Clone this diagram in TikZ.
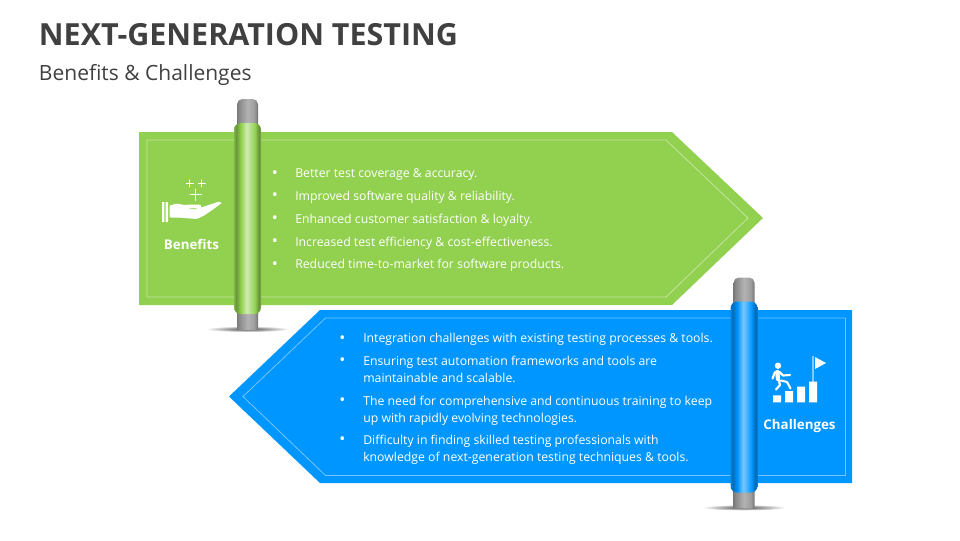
\documentclass[tikz,border=0pt]{standalone}
\usepackage{fontspec}
\setmainfont{Open Sans}
\usetikzlibrary{calc}
\definecolor{benefit}{RGB}{146,208,80}
\definecolor{challenge}{RGB}{0,150,255}
\definecolor{heading}{RGB}{64,64,64}
\pgfdeclarehorizontalshading{greypole}{100bp}{
  color(0bp)=(black!52); color(25bp)=(black!52); color(30bp)=(black!46); color(50bp)=(black!30);
  color(66bp)=(black!38); color(75bp)=(black!55); color(100bp)=(black!55)}
\pgfdeclarehorizontalshading{greenpole}{100bp}{
  color(0bp)=(benefit!88!black); color(25bp)=(benefit!88!black); color(29bp)=(benefit!72!black); color(38bp)=(benefit);
  color(48bp)=(benefit!45!white); color(52bp)=(benefit!55!white); color(64bp)=(benefit);
  color(71bp)=(benefit!70!black); color(75bp)=(benefit!85!black); color(100bp)=(benefit!85!black)}
\pgfdeclarehorizontalshading{bluepole}{100bp}{
  color(0bp)=(challenge!85!black); color(25bp)=(challenge!85!black); color(29bp)=(challenge!72!black); color(38bp)=(challenge);
  color(48bp)=(challenge!55!white); color(52bp)=(challenge!62!white); color(64bp)=(challenge);
  color(71bp)=(challenge!70!black); color(75bp)=(challenge!85!black); color(100bp)=(challenge!85!black)}
\tikzset{%
  banner/.style={fill=#1, draw=none},
  inset/.style={draw=white, draw opacity=0.45, line width=0.6pt},% thin inner outline
  item/.style={anchor=west, text=white, font=\fontsize{9.2}{12.8}\selectfont, inner sep=0pt, align=left},
  dot/.style={text=white, font=\fontsize{12}{13}\selectfont, inner sep=0pt},
  caption/.style={text=white, font=\fontsize{10}{13}\selectfont\bfseries, inner sep=0pt},
  glyph/.style={draw=white, line cap=round, line join=round}
}
% post with its sleeve: x centre, top of post, shading
\newcommand*{\post}[3]{
  \shade[inner color=black!70, outer color=white] (#1,#2+230) ellipse (42 and 3);
  \path[shading=greypole, rounded corners=4] (#1-10.5,#2+231) -- (#1-10.5,#2) -- (#1+10.5,#2)
    [sharp corners] -- (#1+10.5,#2+231) -- cycle;
  \path[shading=#3, rounded corners=5] (#1-13.5,#2+24) rectangle (#1+13.5,#2+215);
}
\begin{document}
\begin{tikzpicture}[x=0.75pt, y=-0.75pt]
\useasboundingbox (0,0) rectangle (960,540);

\node[anchor=west, text=heading, inner sep=0pt, font=\fontsize{22.85}{28}\selectfont\bfseries] (title) at (38.7,34.5) {NEXT-GENERATION TESTING};
\node[anchor=west, text=heading, inner sep=0pt, font=\fontsize{15.75}{18}\selectfont] (subtitle) at (38.7,74.5) {Benefits \& Challenges};

% green banner
\path[banner=benefit] (139,132) -- (672,132) -- (763,218) -- (672,305) -- (139,305) -- cycle;
\draw[inset] (147,140) -- (666,140) -- (748,218) -- (666,297) -- (147,297) -- cycle;
\post{247.5}{99}{greenpole}

\foreach \i/\y/\txt in {1/174.3/Better test coverage \& accuracy.,
    2/197/Improved software quality \& reliability.,
    3/220/Enhanced customer satisfaction \& loyalty.,
    4/243/Increased test efficiency \& cost-effectiveness.,
    5/265.5/Reduced time-to-market for software products.}{
  \node[dot] (gd\i) at (275,\y) {•};
  \node[item] (gt\i) at (295,\y) {\txt};
}

% hand icon
\fill[white] (162.2,202) rectangle (164.4,222) (165.5,202) rectangle (168,222);
\fill[white, rounded corners=0.8] (169.5,205.5) -- (177,203.5) -- (183,204.8) -- (200,204.6) -- (202,206.5)
  -- (200,208.3) -- (187,208.2) -- (195,209.5) -- (219,201.5) -- (222,203) -- (205,215) -- (197,219)
  -- (178,217.5) -- (169.5,217.5) -- cycle;
\draw[glyph, line width=1pt] (186.5,183.3) -- ++(6.6,0) (189.8,180) -- ++(0,6.6)
  (198.5,183.3) -- ++(6.6,0) (201.8,180) -- ++(0,6.6)
  (190.2,194.7) -- ++(11,0) (195.7,189.2) -- ++(0,11);
\node[caption] (benefits) at (191.5,244) {Benefits};

% blue banner
\path[banner=challenge] (852,310) -- (320,310) -- (229,396.5) -- (320,483) -- (852,483) -- cycle;
\draw[inset] (845.5,318) -- (325.5,318) -- (243,396.5) -- (325.5,475.5) -- (845.5,475.5) -- cycle;
\post{744}{277.5}{bluepole}

\foreach \i/\y/\txt in {1/339.5/Integration challenges with existing testing processes \& tools.,
    2/369/{Ensuring test automation frameworks and tools are\\maintainable and scalable.},
    3/410.8/{The need for comprehensive and continuous training to keep\\up with rapidly evolving technologies.},
    4/450/{Difficulty in finding skilled testing professionals with\\knowledge of next-generation testing techniques \& tools.}}{
  \node[item] (bt\i) at (363,\y) {\txt};
}
\node[dot] (bd1) at (342.5,339.5) {•};
\node[dot] (bd2) at (342.5,361.5) {•};
\node[dot] (bd3) at (342.5,402) {•};
\node[dot] (bd4) at (342.5,441) {•};

% stairs and flag icon
\fill[white] (773,395.3) rectangle (781,402.3) (785,391) rectangle (793,402.3)
  (797,386.7) rectangle (805,402.3) (809,381.7) rectangle (817,402.3);
\fill[white, fill opacity=0.5] (812.3,356) rectangle (814.3,381.7);
\fill[white] (815,357) -- (826,363) -- (815,369) -- cycle;
\fill[white] (778,365.7) circle (3.2);
\draw[glyph, line width=3.2pt] (777.3,372) -- (778,379);
\draw[glyph, line width=1.6pt] (775,372) -- (772.5,378.5) (779,371.5) -- (783,375.5) -- (790,375)
  (779,381) -- (780,385) -- (776,389.5) (781,380.5) -- (787,382) -- (790.5,388.5);
\node[caption] (challenges) at (799.5,426) {Challenges};
\end{tikzpicture}
\end{document}
